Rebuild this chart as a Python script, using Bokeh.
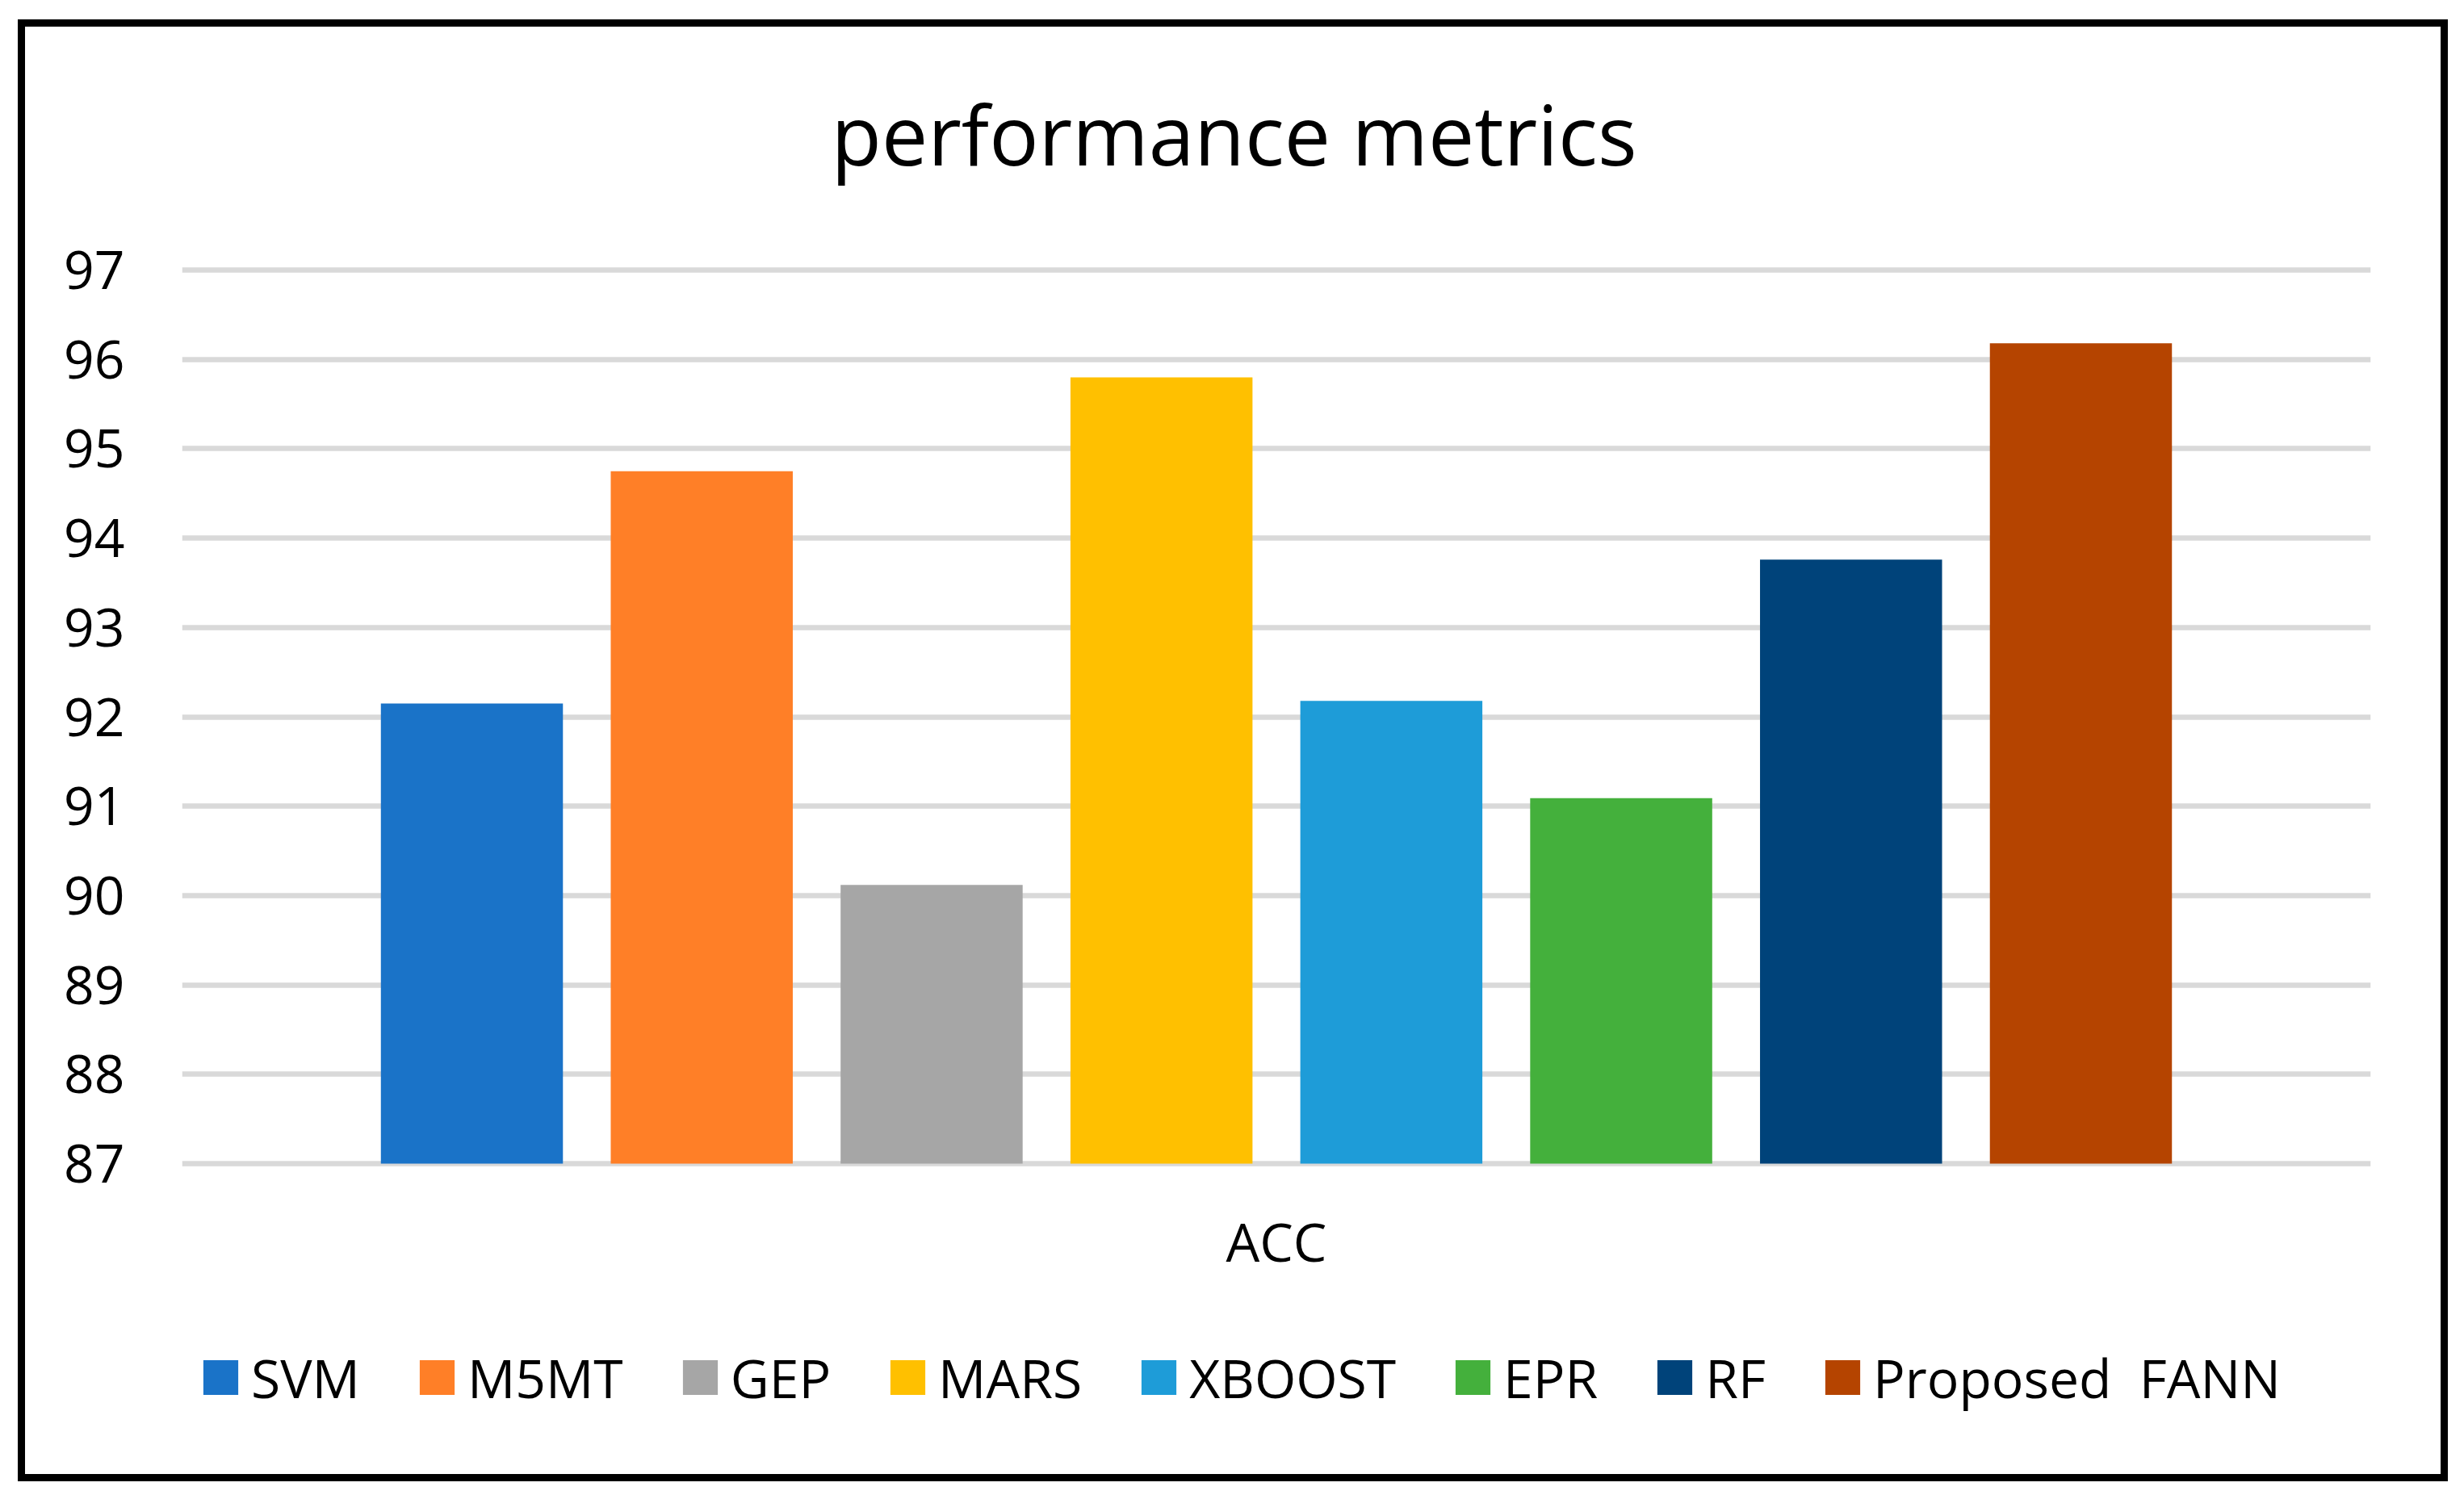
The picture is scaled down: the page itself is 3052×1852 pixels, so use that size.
from bokeh.plotting import figure
from bokeh.layouts import row
from bokeh.models import (ColumnDataSource, FixedTicker, Range1d, Legend,
                          LegendItem, Div)
from bokeh.core.properties import value
from bokeh.embed import file_html
from bokeh.resources import INLINE

# ---- data ----
categories = ["ACC"]
models = ["SVM", "M5MT", "GEP", "MARS", "XBOOST", "EPR", "RF", "Proposed  FANN"]
acc_values = [92.15, 94.75, 90.12, 95.80, 92.18, 91.09, 93.76, 96.18]
colors = ["#1A73C8", "#FF7F27", "#A6A6A6", "#FFC000",
          "#1E9CD8", "#44B03C", "#00437A", "#B54400"]
y_ticks = [87, 88, 89, 90, 91, 92, 93, 94, 95, 96, 97]

FONT = "Open Sans"
n = len(models)
pad = 0.761
center = (n - 1) / 2

# layout constants (pixels)
W, H = 3000, 1830
BORDER_L, BORDER_R, BORDER_T, BORDER_B = 225, 64, 323, 20
FRAME_H = H - BORDER_T - BORDER_B
PX_PER_UNIT = 110.7
y_top = y_ticks[-1] + 0.1
y_bottom = y_top - FRAME_H / PX_PER_UNIT
acc_label_y = y_ticks[0] - 0.86

src = ColumnDataSource(dict(x=list(range(n)), top=acc_values,
                            model=models, color=colors))

p = figure(width=W, height=H,
           x_range=Range1d(-0.5 - pad, n - 0.5 + pad),
           y_range=Range1d(y_bottom, y_top),
           output_backend="svg", toolbar_location=None,
           min_border_left=BORDER_L, min_border_right=BORDER_R,
           min_border_top=BORDER_T, min_border_bottom=BORDER_B)
p.background_fill_color = "white"
p.border_fill_color = "white"
p.outline_line_color = None

r = p.vbar(x="x", top="top", bottom=y_ticks[0], width=0.792,
           fill_color="color", line_color=None, source=src)

# category label under the bars
p.text(x=[center], y=[acc_label_y], text=categories,
       text_font=value(FONT), text_font_size="66px", text_color="black",
       text_align="center", text_baseline="alphabetic")

# y axis
p.yaxis.ticker = FixedTicker(ticks=y_ticks)
p.yaxis.axis_line_color = None
p.yaxis.major_tick_line_color = None
p.yaxis.minor_tick_line_color = None
p.yaxis.major_label_text_font = FONT
p.yaxis.major_label_text_font_size = "66px"
p.yaxis.major_label_text_color = "black"
p.yaxis.major_label_standoff = 65

p.xaxis.visible = False

# grid
p.xgrid.grid_line_color = None
p.ygrid.ticker = FixedTicker(ticks=y_ticks)
p.ygrid.grid_line_color = "#D9D9D9"
p.ygrid.grid_line_width = 6.5

# title
p.title.text = "performance metrics"
p.title.text_font = FONT
p.title.text_font_size = "102px"
p.title.text_font_style = "normal"
p.title.text_color = "black"
p.title.align = "left"
p.title.offset = 804
p.title.standoff = 178

# legend
items = [LegendItem(label=m, renderers=[r], index=i) for i, m in enumerate(models)]
legend = Legend(items=items, orientation="horizontal", location=(21, 59.5),
                glyph_width=54, glyph_height=54, label_standoff=11, spacing=68,
                padding=0, margin=0, border_line_color=None,
                background_fill_alpha=0, label_text_font=FONT,
                label_text_font_size="66px", label_text_color="black")
p.add_layout(legend, "center")

# chart border
border = Div(text='<div style="position:fixed;left:22px;top:24px;width:3010px;'
                  'height:1811px;border:9px solid black;box-sizing:border-box;'
                  'pointer-events:none;z-index:100;"></div>',
             width=1, height=1)

layout = row(p, border)
open("out.html", "w").write(file_html(layout, INLINE))
